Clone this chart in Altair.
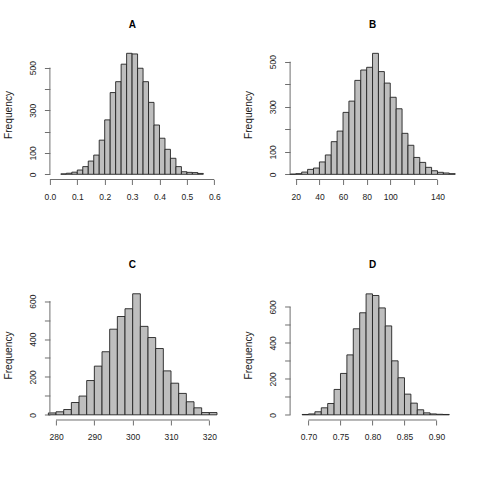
import altair as alt
import pandas as pd

FONT = "Liberation Sans"
FILL = "#BEBEBE"
EDGE = "#222222"
AXIS_COLOR = "#6e6e6e"
TEXT_COLOR = "#222222"

# Panel size (plot area) and grid pitch
W, H = 164.8, 134.5
PITCH = 240

# ---- Histogram data: first break, bin width, counts per bin ----
a_first, a_width = 0.04, 0.02
a_counts = [2, 5, 10, 20, 36, 62, 90, 160, 255, 383, 434, 516, 567, 564,
            497, 434, 337, 231, 169, 117, 75, 36, 12, 9, 8, 4]

b_first, b_width = 15, 5
b_counts = [1, 3, 10, 22, 28, 55, 86, 145, 192, 275, 325, 417, 463, 475,
            537, 456, 405, 342, 291, 182, 129, 75, 53, 31, 16, 9, 6, 3]

c_first, c_width = 278, 2
c_counts = [10, 16, 28, 65, 99, 181, 257, 333, 452, 519, 560, 639, 467,
            408, 350, 232, 167, 113, 69, 37, 12, 12]

d_first, d_width = 0.69, 0.01
d_counts = [2, 5, 17, 39, 63, 141, 230, 333, 478, 567, 672, 663, 594, 494,
            300, 206, 115, 65, 28, 11, 5, 3, 2]

# ---- Axis ticks ----
a_xticks = [0.0, 0.1, 0.2, 0.3, 0.4, 0.5, 0.6]
b_xticks = [20, 40, 60, 80, 100, 120, 140]
c_xticks = [280, 290, 300, 310, 320]
d_xticks = [0.70, 0.75, 0.80, 0.85, 0.90]
ab_yticks = [0, 100, 200, 300, 400, 500]
cd_yticks = [0, 100, 200, 300, 400, 500, 600]


def hide_expr(values):
    if not values:
        return None
    cond = " || ".join(f"datum.value == {v}" for v in values)
    return f"({cond}) ? '' : datum.label"


def panel(title, first, width, counts, xticks, xfmt, xhide, xdom,
          yticks, yhide, ydom):
    lo = [first + i * width for i in range(len(counts))]
    df = pd.DataFrame({"lo": lo, "hi": [v + width for v in lo], "count": counts})

    xs = alt.Scale(domain=xdom, nice=False, zero=False)
    ys = alt.Scale(domain=ydom, nice=False, zero=False)

    xaxis_kw = dict(
        values=xticks, format=xfmt, domain=False, grid=False,
        tickSize=5, tickColor=AXIS_COLOR, tickWidth=1,
        labelFont=FONT, labelFontSize=8.5, labelColor=TEXT_COLOR,
        labelPadding=8, labelFlush=False, labelOverlap=False, title="",
    )
    xe = hide_expr(xhide)
    if xe:
        xaxis_kw["labelExpr"] = xe

    yaxis_kw = dict(
        values=yticks, domain=False, grid=False,
        tickSize=5.5, tickColor=AXIS_COLOR, tickWidth=1,
        labelFont=FONT, labelFontSize=8.5, labelColor=TEXT_COLOR,
        labelAngle=270, labelAlign="center", labelBaseline="bottom",
        labelPadding=7, labelFlush=False, labelOverlap=False,
        title="Frequency", titleFont=FONT, titleFontSize=10.2,
        titleFontWeight="normal", titleColor=TEXT_COLOR,
        titleAngle=270, titleAlign="center", titleBaseline="middle",
        titleX=-41.3, titleY=69.5,
    )
    ye = hide_expr(yhide)
    if ye:
        yaxis_kw["labelExpr"] = ye

    xaxis = alt.Axis(**xaxis_kw)
    yaxis = alt.Axis(**yaxis_kw)

    bars = alt.Chart(df).mark_bar(
        fill=FILL, stroke=EDGE, strokeWidth=0.9
    ).encode(
        x=alt.X("lo:Q", scale=xs, axis=xaxis),
        x2="hi:Q",
        y=alt.Y("count:Q", scale=ys, axis=yaxis),
        y2=alt.datum(0),
    )

    # axis lines spanning the first to the last tick, as in base R plots
    xline = alt.Chart(pd.DataFrame({"lo": [xticks[0]], "hi": [xticks[-1]]})).mark_rule(
        color=AXIS_COLOR, strokeWidth=1
    ).encode(
        x=alt.X("lo:Q", scale=xs, axis=xaxis), x2="hi:Q", y=alt.value(H)
    )
    yline = alt.Chart(pd.DataFrame({"count": [yticks[0]], "top": [yticks[-1]]})).mark_rule(
        color=AXIS_COLOR, strokeWidth=1
    ).encode(
        y=alt.Y("count:Q", scale=ys, axis=yaxis), y2="top:Q", x=alt.value(0)
    )

    return alt.layer(bars, xline, yline).properties(
        width=W, height=H,
        title=alt.Title(title, font=FONT, fontSize=10, fontWeight="bold",
                        color="#000000", anchor="middle", offset=15),
    )


pA = panel("A", a_first, a_width, a_counts, a_xticks, ".1f", [],
           [0.0, 0.6015], ab_yticks, [200, 400], [-24.4, 605.9])
pB = panel("B", b_first, b_width, b_counts, b_xticks, "d", [120],
           [15.17, 154.74], ab_yticks, [200, 400], [-22.9, 574.0])
pC = panel("C", c_first, c_width, c_counts, c_xticks, "d", [],
           [278.4, 321.4], cd_yticks, [100, 300, 500], [-27.3, 682.7])
pD = panel("D", d_first, d_width, d_counts, d_xticks, ".2f", [],
           [0.67125, 0.92875], cd_yticks, [100, 300, 500], [-28.7, 718.5])

chart = alt.concat(
    pA, pB, pC, pD, columns=2,
    spacing={"row": PITCH - H, "column": PITCH - W},
    bounds="flush",
).properties(
    padding={"left": 2.9, "top": 20, "right": 5, "bottom": 5},
).configure(
    background="white",
).configure_view(
    stroke="transparent", strokeWidth=0,
)

chart.save("out.html", embed_options={"renderer": "svg", "actions": False})
